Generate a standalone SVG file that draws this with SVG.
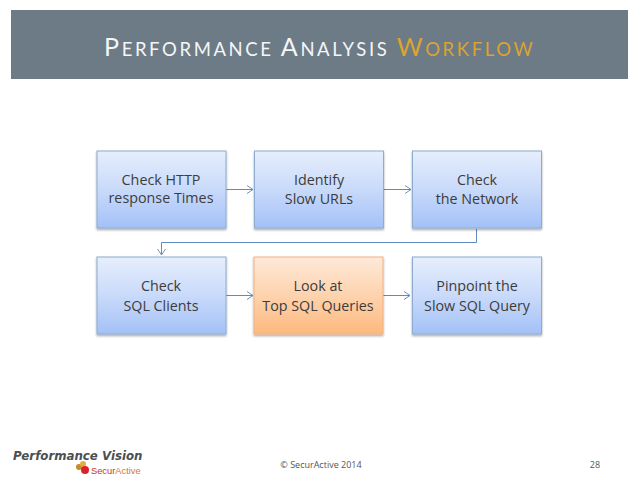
<svg xmlns="http://www.w3.org/2000/svg" width="638" height="478" viewBox="0 0 638 478">
<defs>
<linearGradient id="blue" x1="0" y1="0" x2="0" y2="1"><stop offset="0" stop-color="#e6eefc"/><stop offset="0.5" stop-color="#c9dafa"/><stop offset="1" stop-color="#a3c1f7"/></linearGradient>
<linearGradient id="orange" x1="0" y1="0" x2="0" y2="1"><stop offset="0" stop-color="#fde9d9"/><stop offset="0.5" stop-color="#fdd3ae"/><stop offset="1" stop-color="#fdb97e"/></linearGradient>
<filter id="sh" x="-5%" y="-5%" width="110%" height="115%"><feDropShadow dx="0" dy="1.5" stdDeviation="1.2" flood-color="#000" flood-opacity="0.35"/></filter>
<marker id="arr" markerWidth="9" markerHeight="10" refX="7" refY="4.5" orient="auto" markerUnits="userSpaceOnUse"><path d="M1 0.5 L7 4.5 L1 8.5" fill="none" stroke="#6f94c0" stroke-width="1"/></marker>
</defs>
<style>
.b{fill:url(#blue);stroke:#8eacd0;stroke-width:1;filter:url(#sh)}
.o{fill:url(#orange);stroke:#f3b183;stroke-width:1;filter:url(#sh)}
.t{font-family:"Open Sans","Noto Sans",sans-serif;font-size:14.3px;fill:#3c3c3c;text-anchor:middle}
.c{fill:none;stroke:#5f8ac0;stroke-width:1;marker-end:url(#arr)}
.h{font-family:"Lato","Open Sans",sans-serif;font-size:18.5px;letter-spacing:2.6px}
.cap{font-size:25px}
.f{font-family:"Open Sans","Noto Sans",sans-serif;font-size:9px;fill:#555}
</style>
<rect width="638" height="478" fill="#fff"/>
<g id="header">
<rect x="11" y="10" width="617" height="69" fill="#6d7b87"/>
<text class="h" x="104" y="56" fill="#f4f6f7"><tspan class="cap">P</tspan>ERFORMANCE <tspan class="cap">A</tspan>NALYSIS <tspan fill="#dca32f"><tspan class="cap">W</tspan>ORKFLOW</tspan></text>
</g>
<g id="connectors">
<path class="c" d="M226 189.500H253"/>
<path class="c" d="M383 189.500H411"/>
<path class="c" d="M476.500 229V242.500H161.500V255"/>
<path class="c" d="M226 295.500H253"/>
<path class="c" d="M383 295.500H410"/>
</g>
<g id="n1"><rect class="b" x="97" y="151" width="129" height="77"/><text class="t" x="161" y="185">Check HTTP</text><text class="t" x="161" y="203">response Times</text></g>
<g id="n2"><rect class="b" x="254.500" y="151" width="129" height="77"/><text class="t" x="319" y="185">Identify</text><text class="t" x="319" y="204">Slow URLs</text></g>
<g id="n3"><rect class="b" x="412.500" y="151" width="129" height="77"/><text class="t" x="477" y="185">Check</text><text class="t" x="477" y="204">the Network</text></g>
<g id="n4"><rect class="b" x="97" y="257" width="129" height="77"/><text class="t" x="161" y="291">Check</text><text class="t" x="161" y="311">SQL Clients</text></g>
<g id="n5"><rect class="o" x="254" y="257" width="129" height="77"/><text class="t" x="318" y="291">Look at</text><text class="t" x="318" y="311">Top SQL Queries</text></g>
<g id="n6"><rect class="b" x="412.500" y="257" width="129" height="77"/><text class="t" x="477" y="291">Pinpoint the</text><text class="t" x="477" y="311">Slow SQL Query</text></g>
<g id="footer">
<text class="f" x="321" y="468" text-anchor="middle">© SecurActive 2014</text>
<text class="f" x="595" y="468" text-anchor="middle">28</text>
<text x="13" y="460" font-family="DejaVu Sans,sans-serif" font-size="11.800" font-weight="bold" font-style="italic" fill="#4a4f52">Performance Vision</text>
<circle cx="79" cy="467" r="3" fill="#c98a2a"/><circle cx="83" cy="464" r="3" fill="#e0b040"/><circle cx="85" cy="470" r="4" fill="#d8232a"/>
<text x="91" y="474" font-family="Liberation Sans,sans-serif" font-size="9.300" fill="#c8322a">Secur<tspan fill="#d9782a">Active</tspan></text>
</g>
</svg>
